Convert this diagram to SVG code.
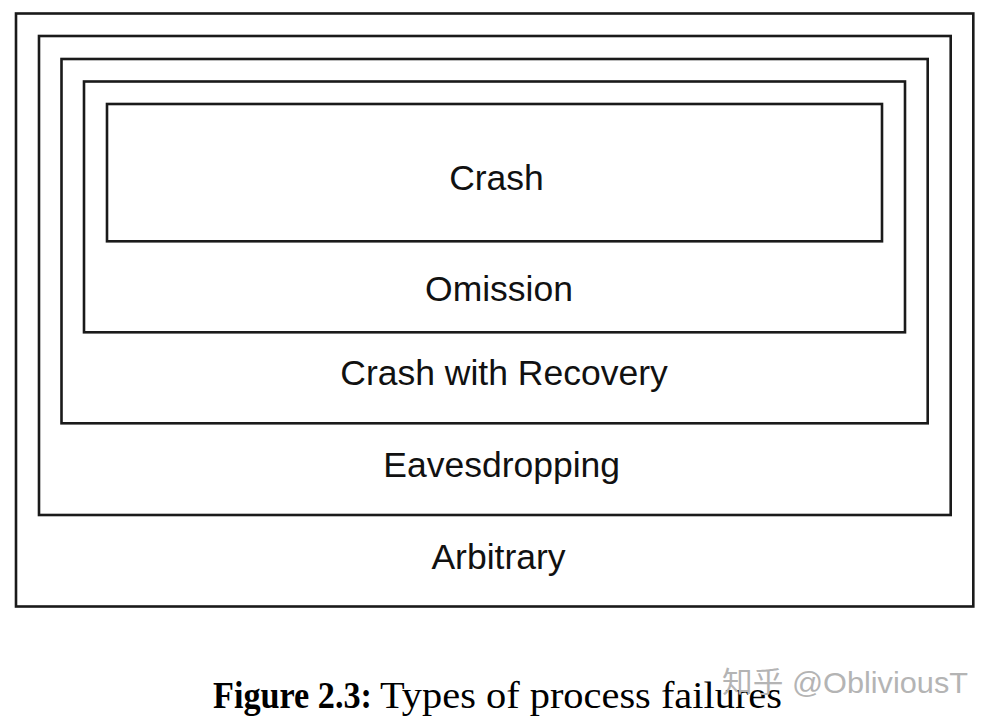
<svg xmlns="http://www.w3.org/2000/svg" width="993" height="725" viewBox="0 0 993 725">
<style>
.box{fill:none;stroke:#1a1a1a;stroke-width:2.6}
.lbl{font-family:"Liberation Sans",Arial,Helvetica,sans-serif;font-size:35.5px;fill:#111;text-anchor:middle}
.cap{font-family:"Liberation Serif","Times New Roman",serif;font-size:37px;fill:#000}
.wm{font-family:"Liberation Sans","Noto Sans CJK SC",sans-serif;font-size:29px;fill:#b4b4b4}
</style>
<rect width="993" height="725" fill="#fff"/>
<g id="arbitrary">
<rect class="box" x="16" y="13.5" width="957.3" height="593"/>
<text class="lbl" x="498.5" y="568.5">Arbitrary</text>
</g>
<g id="eavesdropping">
<rect class="box" x="39" y="36" width="911.7" height="479"/>
<text class="lbl" x="501.7" y="477">Eavesdropping</text>
</g>
<g id="crash-recovery">
<rect class="box" x="61.5" y="59" width="866.2" height="364.3"/>
<text class="lbl" x="504" y="385">Crash with Recovery</text>
</g>
<g id="omission">
<rect class="box" x="84" y="81.5" width="821" height="250.8"/>
<text class="lbl" x="499" y="301">Omission</text>
</g>
<g id="crash">
<rect class="box" x="107" y="104" width="775" height="137.3"/>
<text class="lbl" x="496.5" y="190">Crash</text>
</g>
<g id="connectors"></g>
<g id="caption">
<text class="cap" x="213" y="708" font-weight="bold" textLength="159" lengthAdjust="spacingAndGlyphs">Figure 2.3:</text>
<text class="cap" x="380" y="708" font-size="38.5" textLength="402" lengthAdjust="spacingAndGlyphs">Types of process failures</text>
</g>
<text class="wm" x="722" y="693" textLength="246" lengthAdjust="spacingAndGlyphs"><tspan font-family="'Noto Sans CJK SC',sans-serif">知乎</tspan> @ObliviousT</text>
</svg>
